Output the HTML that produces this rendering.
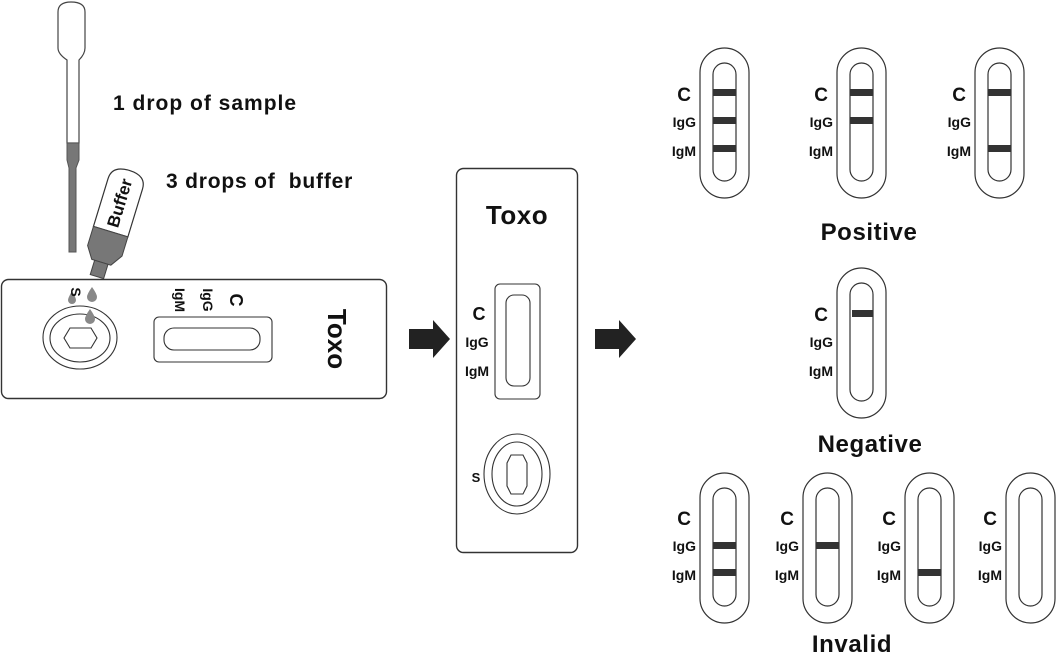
<!DOCTYPE html>
<html><head><style>html,body{margin:0;padding:0;background:#fff}svg{display:block}text{font-family:"Liberation Sans",Arial,sans-serif;font-weight:bold;fill:#111}</style></head>
<body>
<svg width="1056" height="666" viewBox="0 0 1056 666" xmlns="http://www.w3.org/2000/svg">
<defs>
<g id="pill">
<rect x="0" y="0" width="49" height="150" rx="24.5" fill="#fff" stroke="#333" stroke-width="1.2"/>
<rect x="13" y="15" width="23" height="118" rx="11.5" fill="#fff" stroke="#333" stroke-width="1.2"/>
</g>
<g id="lab">
<text x="-9" y="5" font-size="19" text-anchor="end" fill="#333">C</text>
<text x="-4" y="31" font-size="14" text-anchor="end">IgG</text>
<text x="-4" y="60" font-size="14" text-anchor="end">IgM</text>
</g>
</defs>

<!-- pipette -->
<path d="M58,12 Q58,2 71,2 Q85,2 85,12 L85,48 Q85,54 79,60 L79,143 L67,143 L67,60 Q58,54 58,48 Z" fill="#fff" stroke="#444" stroke-width="1.2"/>
<path d="M67,143 L79,143 L79,160 L76,168 L76,252 L69,252 L69,168 L67,160 Z" fill="#777" stroke="#555" stroke-width="1"/>

<!-- buffer bottle -->
<g transform="translate(113,224) rotate(17)">
<path d="M-18,8 L-18,-42 Q-18,-56 0,-56 Q18,-56 18,-42 L18,8 Z" fill="#fff" stroke="#333" stroke-width="1.2"/>
<path d="M-18,8 L18,8 L18,28 L10,40 L-10,40 L-18,28 Z" fill="#777" stroke="#444" stroke-width="1"/>
<rect x="-7" y="40" width="14" height="15" fill="#777" stroke="#444" stroke-width="1"/>
<text transform="rotate(-90)" x="22" y="6" font-size="17" text-anchor="middle">Buffer</text>
</g>

<text x="113" y="110" font-size="21" letter-spacing="1">1 drop of sample</text>
<text x="166" y="188" font-size="21" letter-spacing="0.8">3 drops of&#160; buffer</text>

<!-- horizontal device -->
<rect x="1.5" y="279.5" width="385" height="119" rx="7" fill="#fff" stroke="#333" stroke-width="1.4"/>
<ellipse cx="80" cy="337.5" rx="37" ry="31.5" fill="none" stroke="#333" stroke-width="1.1"/>
<ellipse cx="80" cy="338" rx="30" ry="24" fill="none" stroke="#333" stroke-width="1.1"/>
<path d="M70,328 L91,328 L97,338 L91,348 L70,348 L64,338 Z" fill="none" stroke="#333" stroke-width="1.1"/>
<path d="M72,291 Q68,298 68,300 A4,4 0 0 0 76,300 Q76,298 72,291Z" fill="#888"/>
<path d="M92,287 Q87,294 87,297 A5,5 0 0 0 97,297 Q97,294 92,287Z" fill="#888"/>
<path d="M90,309 Q85,316 85,319 A5,5 0 0 0 95,319 Q95,316 90,309Z" fill="#888"/>
<text transform="translate(71,292) rotate(90)" font-size="14" text-anchor="middle">S</text>
<rect x="154" y="317" width="118" height="45" rx="5" fill="#fff" stroke="#333" stroke-width="1.1"/>
<rect x="164" y="328" width="96" height="22" rx="10" fill="#fff" stroke="#333" stroke-width="1.1"/>
<text transform="translate(175,300) rotate(90)" font-size="14" text-anchor="middle">IgM</text>
<text transform="translate(203,300) rotate(90)" font-size="14" text-anchor="middle">IgG</text>
<text transform="translate(230,300) rotate(90)" font-size="18" text-anchor="middle">C</text>
<text transform="translate(328,339) rotate(90)" font-size="26" text-anchor="middle">Toxo</text>

<!-- arrows -->
<path d="M409,329 L433,329 L433,320 L450,339 L433,358 L433,349 L409,349 Z" fill="#222"/>
<path d="M595,329 L619,329 L619,320 L636,339 L619,358 L619,349 L595,349 Z" fill="#222"/>

<!-- vertical device -->
<rect x="456.5" y="168.5" width="121" height="384" rx="7" fill="#fff" stroke="#333" stroke-width="1.4"/>
<text x="517" y="224" font-size="26" text-anchor="middle" letter-spacing="0.5">Toxo</text>
<rect x="495" y="284" width="45" height="115" rx="5" fill="#fff" stroke="#333" stroke-width="1.1"/>
<rect x="506" y="295" width="24" height="91" rx="8" fill="#fff" stroke="#333" stroke-width="1.1"/>
<text x="479" y="320" font-size="18" text-anchor="middle">C</text>
<text x="477" y="347" font-size="14" text-anchor="middle">IgG</text>
<text x="477" y="376" font-size="14" text-anchor="middle">IgM</text>
<ellipse cx="517" cy="474" rx="33" ry="40" fill="none" stroke="#333" stroke-width="1.1"/>
<ellipse cx="517" cy="474" rx="25" ry="32" fill="none" stroke="#333" stroke-width="1.1"/>
<path d="M511,455 L523,455 L527,463 L527,486 L523,494 L511,494 L507,486 L507,463 Z" fill="none" stroke="#333" stroke-width="1.1"/>
<text x="476" y="482" font-size="13" text-anchor="middle">S</text>

<!-- Positive -->
<g transform="translate(700,48)"><use href="#pill"/><rect x="13" y="41" width="23" height="7" fill="#333"/><rect x="13" y="69" width="23" height="7" fill="#333"/><rect x="13" y="97" width="23" height="7" fill="#333"/><g transform="translate(0,48)"><use href="#lab"/></g></g>
<g transform="translate(837,48)"><use href="#pill"/><rect x="13" y="41" width="23" height="7" fill="#333"/><rect x="13" y="69" width="23" height="7" fill="#333"/><g transform="translate(0,48)"><use href="#lab"/></g></g>
<g transform="translate(975,48)"><use href="#pill"/><rect x="13" y="41" width="23" height="7" fill="#333"/><rect x="13" y="97" width="23" height="7" fill="#333"/><g transform="translate(0,48)"><use href="#lab"/></g></g>
<text x="869" y="240" font-size="24" text-anchor="middle" letter-spacing="0.6">Positive</text>

<!-- Negative -->
<g transform="translate(837,268)"><use href="#pill"/><rect x="15" y="42" width="21" height="7" fill="#333"/><g transform="translate(0,48)"><use href="#lab"/></g></g>
<text x="870" y="452" font-size="24" text-anchor="middle" letter-spacing="0.6">Negative</text>

<!-- Invalid -->
<g transform="translate(700,473)"><use href="#pill"/><rect x="13" y="69" width="23" height="7" fill="#333"/><rect x="13" y="96" width="23" height="7" fill="#333"/><g transform="translate(0,47)"><use href="#lab"/></g></g>
<g transform="translate(803,473)"><use href="#pill"/><rect x="13" y="69" width="23" height="7" fill="#333"/><g transform="translate(0,47)"><use href="#lab"/></g></g>
<g transform="translate(905,473)"><use href="#pill"/><rect x="13" y="96" width="23" height="7" fill="#333"/><g transform="translate(0,47)"><use href="#lab"/></g></g>
<g transform="translate(1006,473)"><use href="#pill"/><g transform="translate(0,47)"><use href="#lab"/></g></g>
<text x="852" y="652" font-size="24" text-anchor="middle" letter-spacing="0.6">Invalid</text>
</svg>
</body></html>
